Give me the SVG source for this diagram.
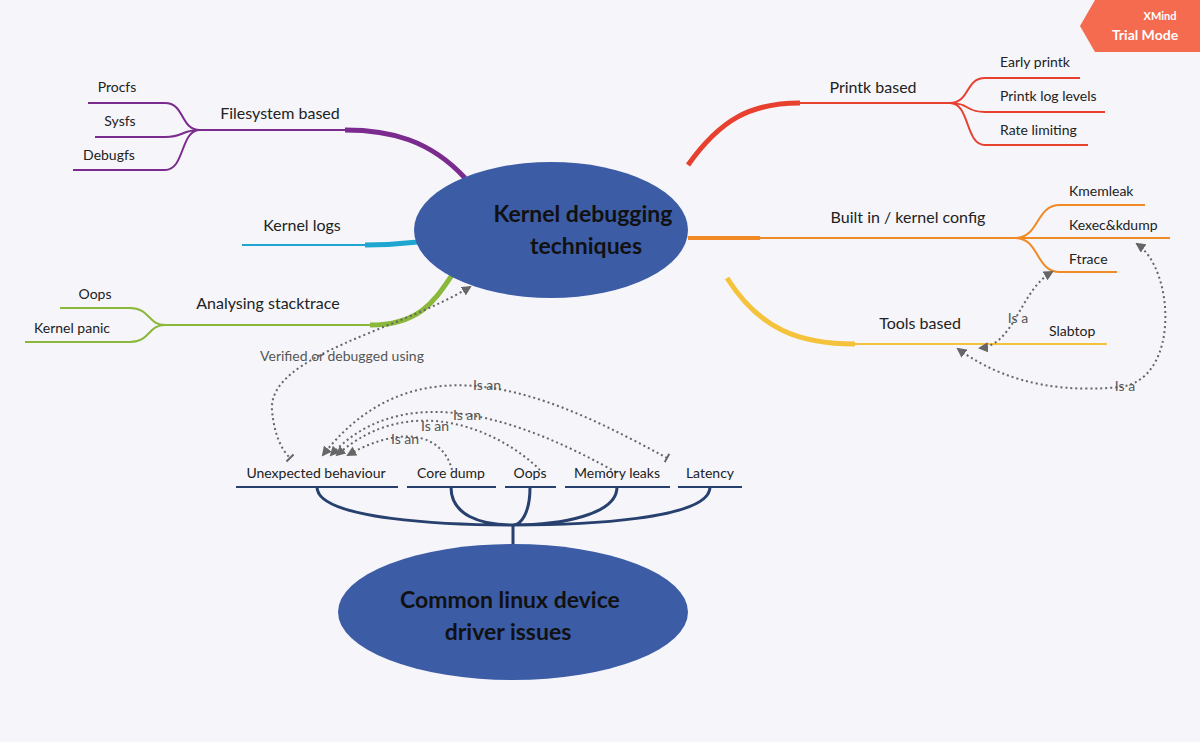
<svg xmlns="http://www.w3.org/2000/svg" width="1200" height="742" viewBox="0 0 1200 742">
<defs>
<marker id="ah" viewBox="0 0 10 10" refX="8" refY="5" markerWidth="5" markerHeight="5" orient="auto-start-reverse"><path d="M0,0L10,5L0,10z" fill="#666"/></marker>
<marker id="tb" viewBox="0 0 10 10" refX="5" refY="5" markerWidth="5" markerHeight="5" orient="auto"><path d="M5,0V10" stroke="#666" stroke-width="2"/></marker>
<style>
text{font-family:Lato,"Noto Sans",sans-serif;fill:#222}
.s{font-size:14px}.b{font-size:16px}.c{font-size:23px;font-weight:bold;text-anchor:middle;fill:#111}
.l{font-size:14px;fill:#555}
.d{fill:none;stroke:#666;stroke-width:2;stroke-dasharray:2 3}
</style>
</defs>
<rect width="1200" height="742" fill="#f5f5fa"/>
<g id="badge"><path d="M1095,0H1200V52H1095L1080,26z" fill="#f46b50"/><text x="1160" y="20" style="font-size:11px;fill:#fff;font-weight:bold" text-anchor="middle">XMind</text><text x="1145" y="40" style="font-size:14px;fill:#fff;font-weight:bold" text-anchor="middle">Trial Mode</text></g>
<g id="connectors">
<g stroke="#7b2a8e" fill="none">
<path d="M345,130H195" stroke-width="2"/><path d="M465,178C430,140 390,130 345,130" stroke-width="5"/>
<path d="M88,103H165C185,103 180,130 200,130M95,137H165C185,137 180,130 200,130M73,170H165C185,170 180,130 200,130" stroke-width="2"/></g>
<g stroke="#1ea5d0" fill="none"><path d="M242,245H365" stroke-width="2"/><path d="M365,245C390,245 400,244 418,242" stroke-width="5"/></g>
<g stroke="#8ab83a" fill="none"><path d="M165,325H370" stroke-width="2"/><path d="M370,325C420,325 435,300 452,275" stroke-width="5"/>
<path d="M60,308H130C150,308 148,325 165,325M25,342H130C150,342 148,325 165,325" stroke-width="2"/></g>
<g stroke="#e8402f" fill="none"><path d="M688,165C720,120 750,103 800,103" stroke-width="5"/><path d="M800,103H950" stroke-width="2"/>
<path d="M950,103C970,103 965,78 985,78H1080M950,103C970,103 965,112 985,112H1105M950,103C970,103 965,145 985,145H1088" stroke-width="2"/></g>
<g stroke="#f08a24" fill="none"><path d="M688,238H760" stroke-width="4"/><path d="M760,238H1170" stroke-width="2"/>
<path d="M1015,238C1040,238 1035,205 1060,205H1145M1015,238C1040,238 1035,272 1060,272H1117" stroke-width="2"/></g>
<g stroke="#f5c23b" fill="none"><path d="M727,278C760,330 800,344 855,344" stroke-width="5"/><path d="M855,344H1107" stroke-width="2"/></g>
<g stroke="#27406e" stroke-width="3" fill="none">
<path d="M317,487C317,520 450,525 513,525M451,487C451,515 480,525 513,525M530,487C530,515 520,525 513,525M617,487C617,515 560,525 513,525M710,487C710,520 580,525 513,525M513,525V546"/>
<path d="M236,487H398M407,487H496M505,487H556M565,487H670M678,487H742" stroke-width="2"/></g>
<path class="d" d="M1052,272C1020,290 1015,345 980,348" marker-start="url(#ah)" marker-end="url(#ah)"/>
<path class="d" d="M1137,244C1175,270 1180,380 1120,387C1040,395 990,372 958,349" marker-start="url(#ah)" marker-end="url(#ah)"/>
<path class="d" d="M470,287C400,330 268,355 272,410C274,435 282,450 290,458" marker-start="url(#ah)" marker-end="url(#tb)"/>
<path class="d" d="M667,458C560,400 420,330 323,455" marker-start="url(#tb)" marker-end="url(#ah)"/>
<path class="d" d="M616,472C540,430 410,370 331,455" marker-end="url(#ah)"/>
<path class="d" d="M540,470C500,430 410,390 337,455" marker-end="url(#ah)"/>
<path class="d" d="M452,470C445,440 410,420 348,455" marker-end="url(#ah)"/>
<text class="l" x="1125" y="391" text-anchor="middle">Is a</text>
<text class="l" x="1018" y="323" text-anchor="middle">Is a</text>
<text class="l" x="342" y="361" text-anchor="middle">Verified or debugged using</text>
<text class="l" x="487" y="390" text-anchor="middle">Is an</text>
<text class="l" x="467" y="420" text-anchor="middle">Is an</text>
<text class="l" x="435" y="431" text-anchor="middle">Is an</text>
<text class="l" x="405" y="444" text-anchor="middle">Is an</text>
</g>
<g id="central"><ellipse cx="551" cy="230" rx="137" ry="68" fill="#3c5ca6"/><text class="c" x="583" y="222">Kernel debugging</text><text class="c" x="586" y="254">techniques</text></g>
<g id="issues"><ellipse cx="513" cy="612" rx="175" ry="68" fill="#3c5ca6"/><text class="c" x="510" y="608">Common linux device</text><text class="c" x="508" y="640">driver issues</text></g>
<g id="fs"><text class="b" x="280" y="119" text-anchor="middle">Filesystem based</text><text class="s" x="117" y="92" text-anchor="middle">Procfs</text><text class="s" x="120" y="126" text-anchor="middle">Sysfs</text><text class="s" x="109" y="160" text-anchor="middle">Debugfs</text></g>
<g id="klogs"><text class="b" x="302" y="231" text-anchor="middle">Kernel logs</text></g>
<g id="stack"><text class="b" x="268" y="309" text-anchor="middle">Analysing stacktrace</text><text class="s" x="95" y="299" text-anchor="middle">Oops</text><text class="s" x="72" y="333" text-anchor="middle">Kernel panic</text></g>
<g id="printk"><text class="b" x="873" y="93" text-anchor="middle">Printk based</text><text class="s" x="1000" y="67">Early printk</text><text class="s" x="1000" y="101">Printk log levels</text><text class="s" x="1000" y="135">Rate limiting</text></g>
<g id="builtin"><text class="b" x="908" y="223" text-anchor="middle">Built in / kernel config</text><text class="s" x="1069" y="196">Kmemleak</text><text class="s" x="1069" y="230">Kexec&amp;kdump</text><text class="s" x="1069" y="264">Ftrace</text></g>
<g id="tools"><text class="b" x="920" y="329" text-anchor="middle">Tools based</text><text class="s" x="1049" y="336">Slabtop</text></g>
<g id="issuelist"><text class="s" x="316" y="478" text-anchor="middle">Unexpected behaviour</text><text class="s" x="451" y="478" text-anchor="middle">Core dump</text><text class="s" x="530" y="478" text-anchor="middle">Oops</text><text class="s" x="617" y="478" text-anchor="middle">Memory leaks</text><text class="s" x="710" y="478" text-anchor="middle">Latency</text></g>
</svg>
